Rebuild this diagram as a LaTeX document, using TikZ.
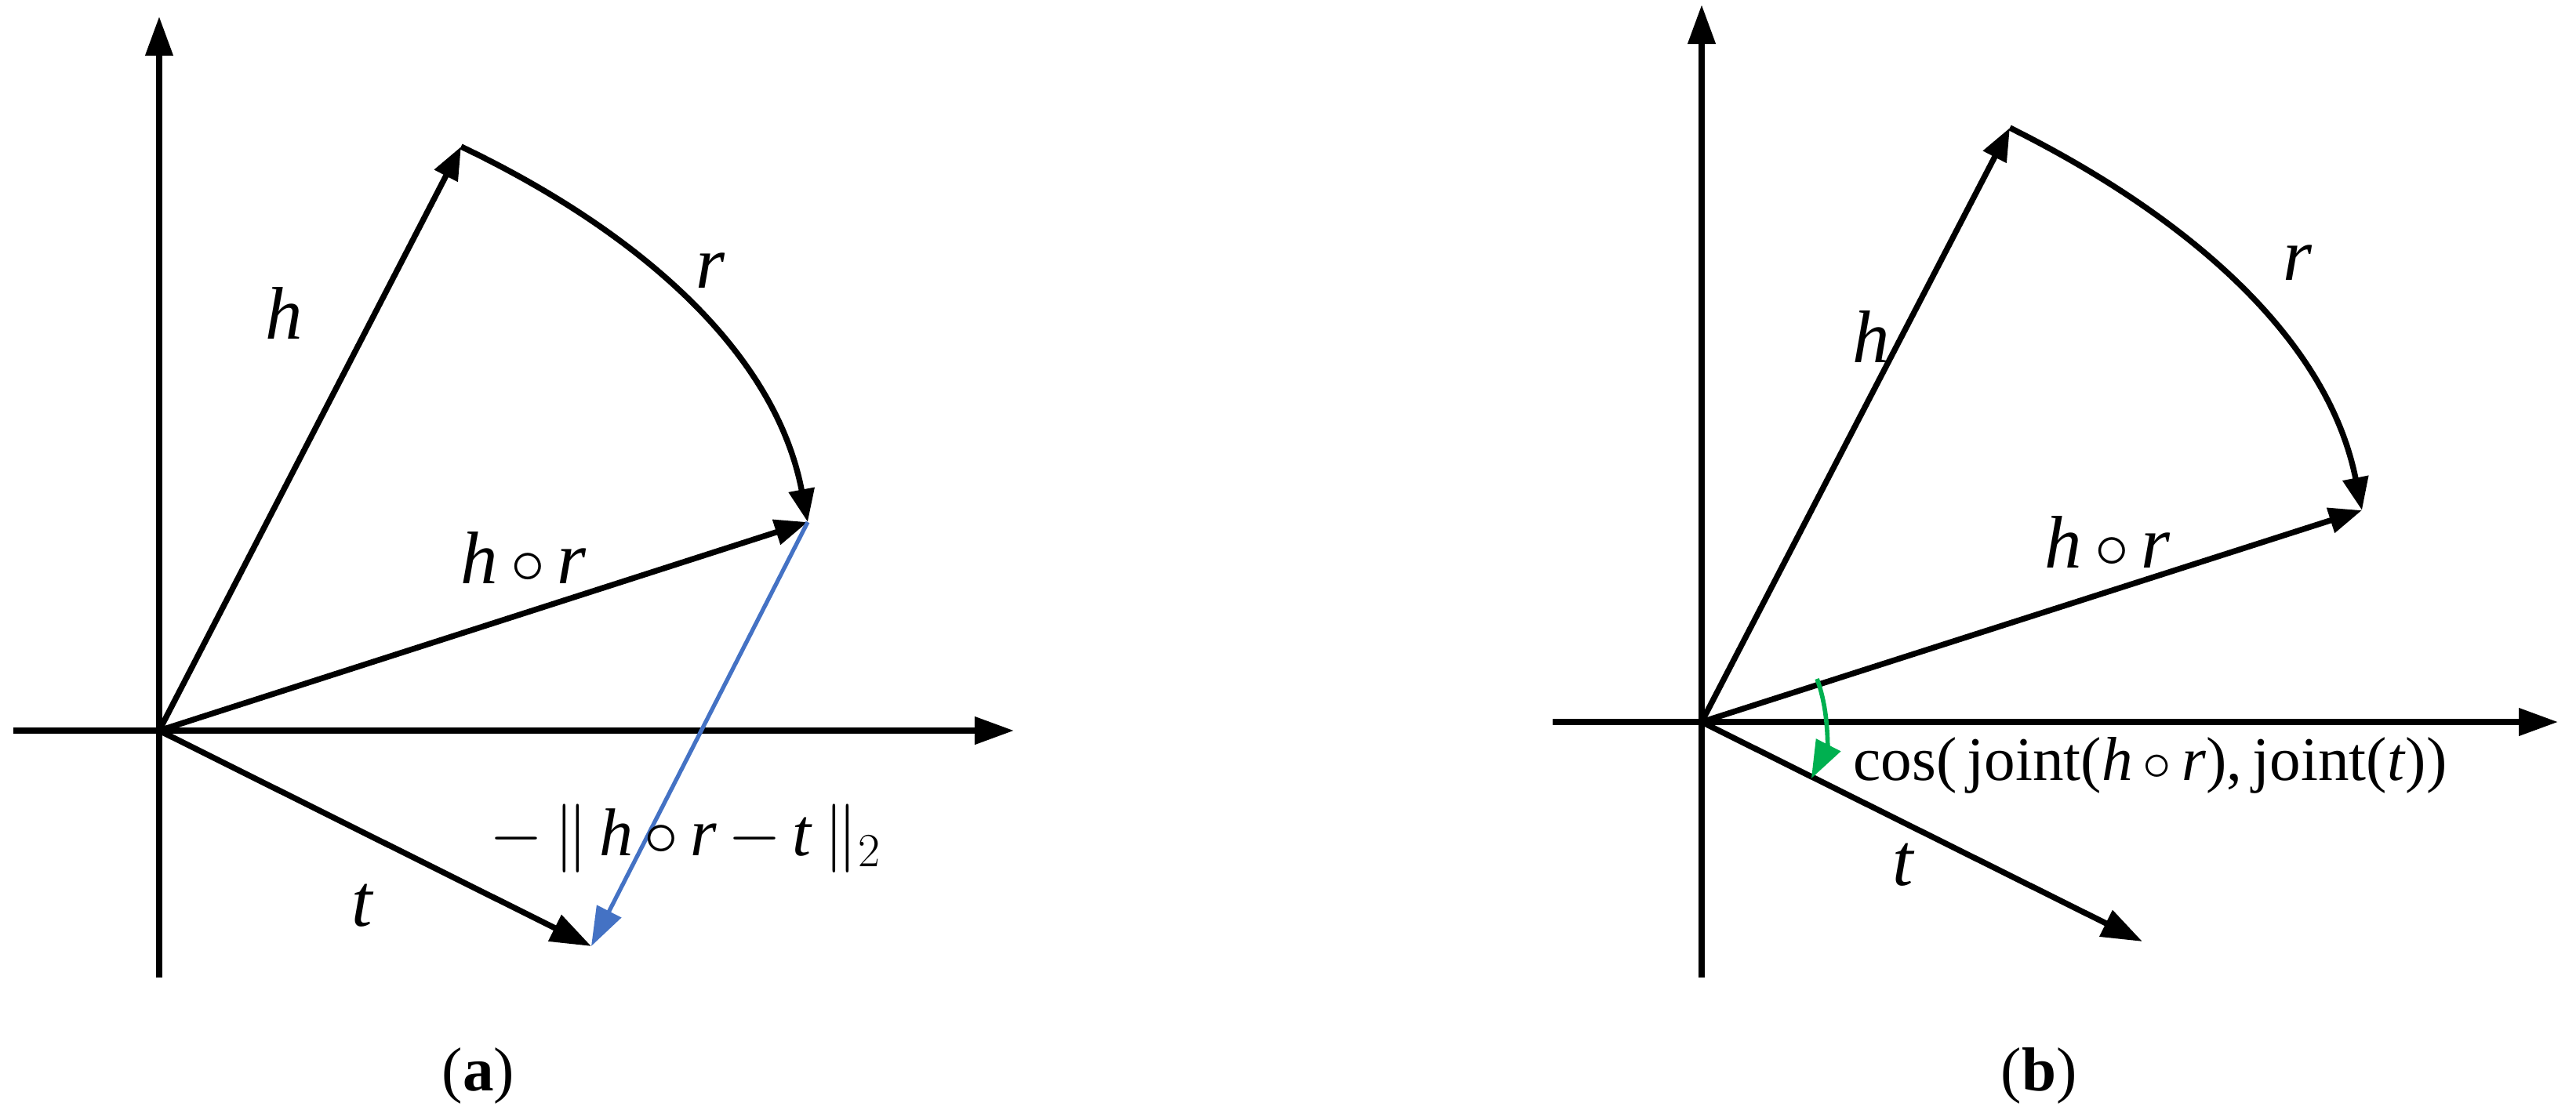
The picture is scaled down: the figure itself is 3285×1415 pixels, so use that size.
\documentclass[tikz,border=0pt]{standalone}
\usepackage{fontspec}
\setmainfont{Liberation Serif}
\usetikzlibrary{arrows.meta}
\definecolor{vblue}{HTML}{4472C4}
\definecolor{vgreen}{HTML}{00B050}
\begin{document}
\begin{tikzpicture}[x=0.01cm,y=-0.01cm,
  vec/.style={line width=2.1pt, -{Triangle[length=0.42cm,width=0.32cm]}},
  bigvec/.style={line width=2.1pt, -{Triangle[length=0.52cm,width=0.36cm]}},
  axis/.style={line width=2.1pt, -{Triangle[length=0.5cm,width=0.34cm]}},
  lbl/.style={font=\fontsize{27}{32}\selectfont, inner sep=0pt},
  flbl/.style={font=\fontsize{24.5}{29}\selectfont, inner sep=0pt},
  clbl/.style={font=\fontsize{22.5}{27}\selectfont, inner sep=0pt},
]
\useasboundingbox (0,0) rectangle (3285,1415);
% ---------------- panel (a)
\coordinate (Oa) at (203,932);
\coordinate (XLa) at (17,932);
\coordinate (XRa) at (1293,932);
\coordinate (YBa) at (203,1247);
\coordinate (YTa) at (203,21);
\coordinate (Ha) at (588,187);
\coordinate (HRa) at (1030,666);
\coordinate (Ta) at (754,1207);
\draw[axis] (XLa) -- (XRa);
\draw[axis] (YBa) -- (YTa);
\draw[vec] (Oa) -- (Ha);
\draw[vec] (Oa) -- (HRa);
\draw[bigvec] (Oa) -- (Ta);
\draw[vec] (Ha) .. controls (808,292) and (988,445) .. (HRa);
\draw[line width=1.5pt, vblue, -{Triangle[length=0.5cm,width=0.34cm]}] (HRa) -- (Ta);
\node[lbl] (la-h) at (362,400) {\textit{h}};
\node[lbl] (la-r) at (906,345) {\textit{r}};
\node[lbl] (la-hr) at (668,712) {\textit{h}\,$\circ$\,\textit{r}};
\node[lbl] (la-t) at (463,1155) {\textit{t}};
\node[flbl] (la-f) at (874,1070) {$-$\,$\|$\,\textit{h}\,$\circ$\,\textit{r}\,$-$\,\textit{t}\,$\|_2$};
\node[clbl] (cap-a) at (610,1372) {(\textbf{a})};
% ---------------- panel (b)
\coordinate (Ob) at (2170,921);
\coordinate (XLb) at (1980,921);
\coordinate (XRb) at (3262,921);
\coordinate (YBb) at (2170,1247);
\coordinate (YTb) at (2170,6);
\coordinate (Hb) at (2563,163);
\coordinate (HRb) at (3012,651);
\coordinate (Tb) at (2732,1201);
\draw[axis] (XLb) -- (XRb);
\draw[axis] (YBb) -- (YTb);
\draw[vec] (Ob) -- (Hb);
\draw[vec] (Ob) -- (HRb);
\draw[bigvec] (Ob) -- (Tb);
\draw[vec] (Hb) .. controls (2788,275) and (2968,430) .. (HRb);
\draw[line width=1.6pt, vgreen, -{Triangle[length=0.48cm,width=0.34cm]}]
  ([shift={(-20.5:157)}]Ob) arc[start angle=-20.5, end angle=27, radius=158];
\node[lbl] (lb-h) at (2386,430) {\textit{h}};
\node[lbl] (lb-r) at (2930,335) {\textit{r}};
\node[lbl] (lb-hr) at (2688,692) {\textit{h}\,$\circ$\,\textit{r}};
\node[lbl] (lb-t) at (2428,1103) {\textit{t}};
\node[clbl, anchor=west] (lb-cos) at (2363,976) {cos(\,joint(\textit{h}\,$\circ$\,\textit{r}),\,joint(\textit{t}))};
\node[clbl] (cap-b) at (2600,1372) {(\textbf{b})};
\end{tikzpicture}
\end{document}
